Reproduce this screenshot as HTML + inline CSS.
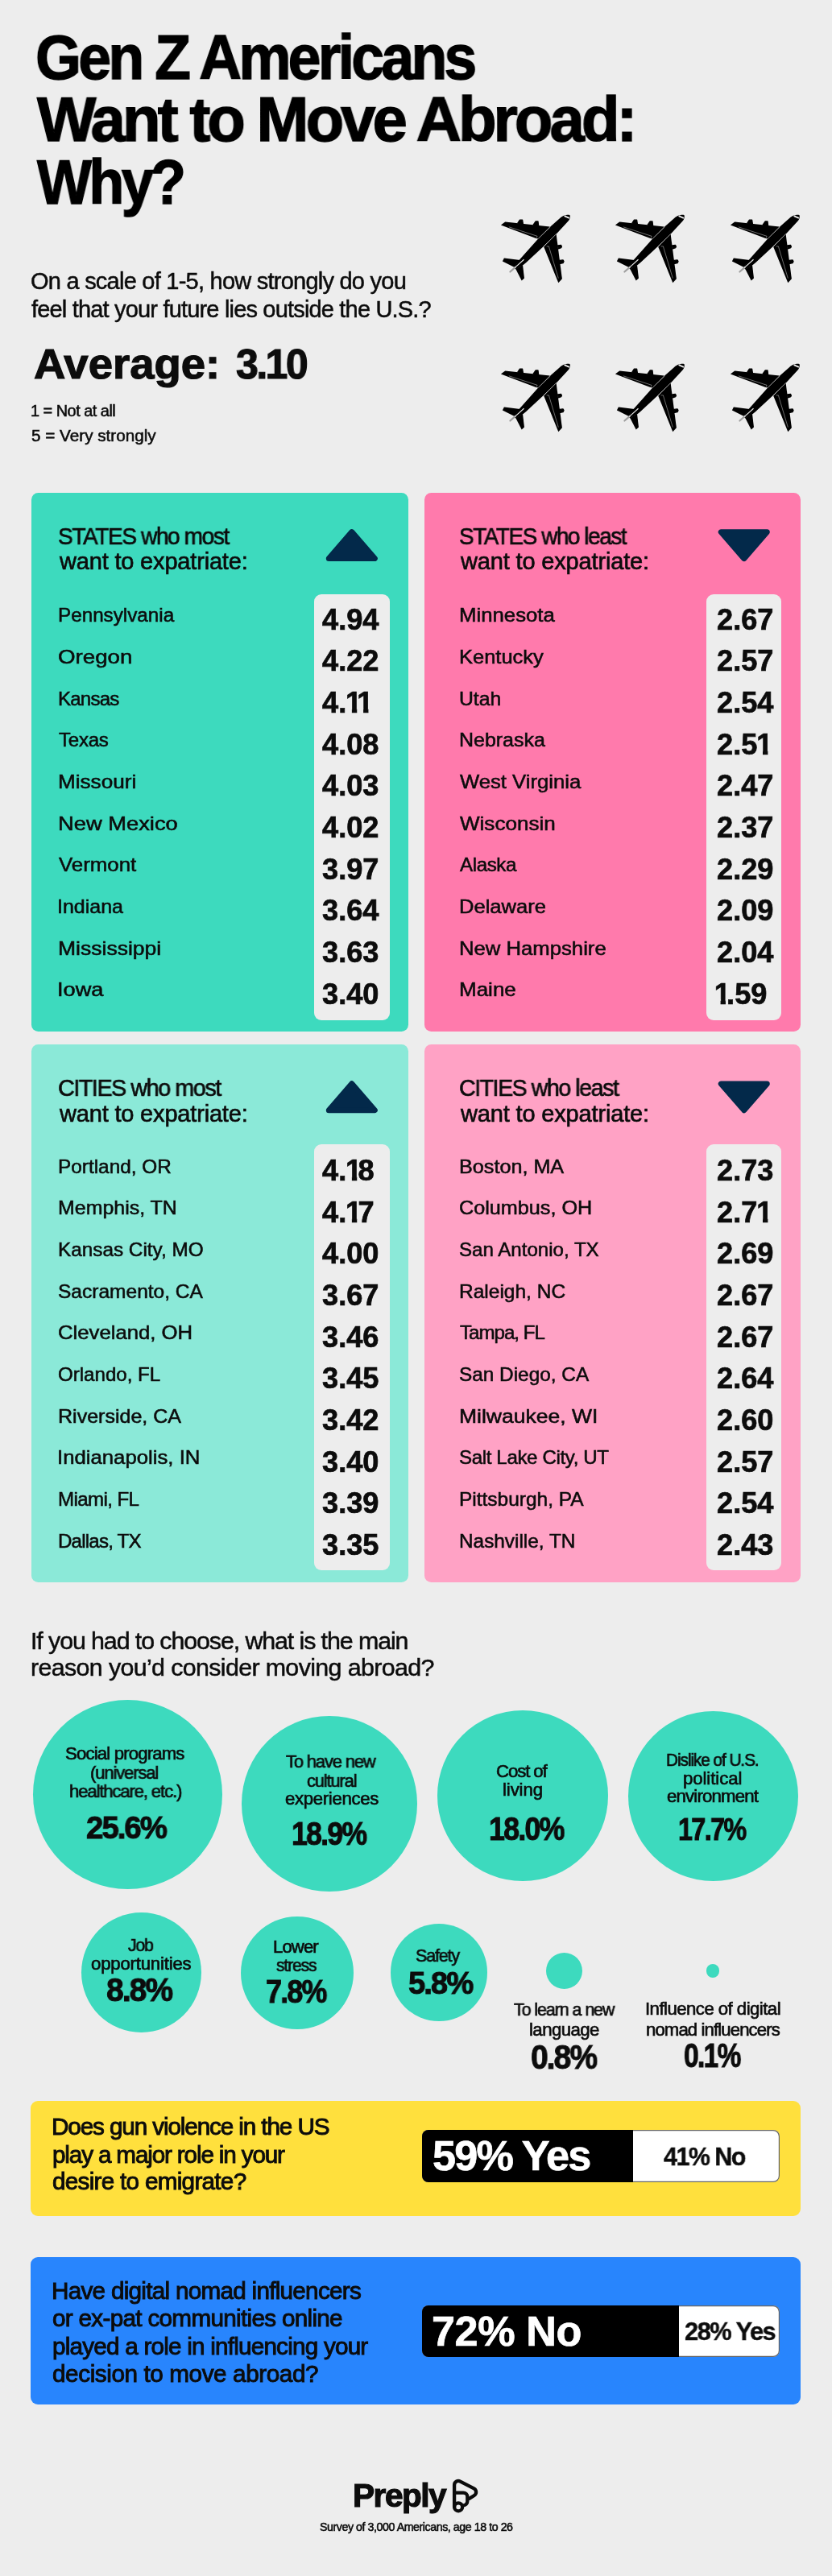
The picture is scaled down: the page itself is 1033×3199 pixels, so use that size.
<!DOCTYPE html>
<html lang="en"><head><meta charset="utf-8"><title>Gen Z Americans Want to Move Abroad: Why?</title>
<style>
html,body{margin:0;padding:0;background:#ededed}
body{width:1033px;height:3199px;background:#ededed;position:relative;overflow:hidden;font-family:"Liberation Sans",sans-serif;color:#0c0c0c}
.t{position:absolute;white-space:pre;line-height:1;will-change:transform;transform-origin:0 50%;-webkit-text-stroke:.55px currentColor}
.b{font-weight:700;-webkit-text-stroke:.7px currentColor}
.h{-webkit-text-stroke:1.4px currentColor;color:#000}
.m{-webkit-text-stroke:.95px currentColor}
.l{-webkit-text-stroke:.65px currentColor}
.p{-webkit-text-stroke:1.2px currentColor}
.q{-webkit-text-stroke:1px currentColor}
.n{-webkit-text-stroke:.45px currentColor}
.m3{-webkit-text-stroke:.65px currentColor}
.m2{-webkit-text-stroke:.5px currentColor}
.t i{font-style:normal;display:inline-block;margin:0 -.135em 0 -.03em;clip-path:polygon(0 0,100% 0,100% .66em,.39em .66em,.39em 1em,.215em 1em,.215em .66em,0 .66em)}
.t i.f{margin-left:-.06em}
.card{position:absolute;border-radius:8.5px}
.nbox{position:absolute;border-radius:9px;background:#ededed}
.circ{position:absolute;border-radius:50%;background:#3ddabe}
.band{position:absolute;border-radius:9px}
.bar{position:absolute;border-radius:8px;background:#fff;box-shadow:inset 0 0 0 1.2px rgba(0,0,0,.6);overflow:hidden}
.bk{position:absolute;left:0;top:0;bottom:0;background:#000}
h1{margin:0;font:inherit}
svg.ov{position:absolute;left:0;top:0;width:1033px;height:3199px;pointer-events:none}
</style></head><body>
<main>
<header id="intro">
<svg class="ov" viewBox="0 0 1033 3199"><g fill="#000">
<g transform="translate(610 255)"><path d="M72.7 26.6 L17.2 20.5 11.9 24.5 55.5 41 58.4 41.6Z"/>
<path d="M80.6 35.4 L87.9 91.2 83.3 96.2 65.2 51.4Z"/>
<path d="M32.8 22 L35.4 18.2 38.6 18.1 39.4 23Z M52.2 24.2 L55 20 58 20 58.6 25Z M82.6 50 L86.6 49.4 87.4 51.2 86.8 52.6 83.4 53.8Z M85 68.4 L89 67.9 90 69.6 89 71.6 85.6 72.4Z" stroke="#000" stroke-width="1.3" stroke-linejoin="round"/>
<path d="M15.9 65.4 L35.7 68.1 28.4 76.7 13.9 69.4Z"/>
<path d="M39 74 L41 90.6 37.7 93.6 30.4 79.3Z"/>
<path d="M97.6 12.2 C98.2 14.5 97.4 17.6 95.6 19.6 L80.6 35.7 64.8 50.9 43.6 70.7 39.7 74 30.5 79.6 28 77.2 35 67.4 58.2 41.6 72.7 27.1 84.6 16.5 C87 14 90.5 12.1 92.5 12.2 C94.5 11.6 96.3 11.6 97.6 12.2Z"/>
<path d="M73.4 26.9 L58.3 41.2 M80.9 35.4 L65.1 50.9" stroke="#ededed" stroke-width=".55" fill="none"/>
<path d="M21.8 26.8 L57.1 38.3 56.2 40.3 M68.7 50.9 L71.4 50.9 83.3 90.6" stroke="#ededed" stroke-width=".45" fill="none"/>
<path d="M23.4 82.5 L29.6 77.2" stroke="#a0a0a0" stroke-width="2.2" stroke-linecap="round" fill="none"/>
<path d="M29 77.6 L40.5 67.3" stroke="#e8e8e8" stroke-width="1.2" fill="none"/>
<path d="M91.2 13.4 L96.3 15.6" stroke="#ededed" stroke-width="1.7" stroke-linecap="round" fill="none"/></g>
<g transform="translate(752 255)"><path d="M72.7 26.6 L17.2 20.5 11.9 24.5 55.5 41 58.4 41.6Z"/>
<path d="M80.6 35.4 L87.9 91.2 83.3 96.2 65.2 51.4Z"/>
<path d="M32.8 22 L35.4 18.2 38.6 18.1 39.4 23Z M52.2 24.2 L55 20 58 20 58.6 25Z M82.6 50 L86.6 49.4 87.4 51.2 86.8 52.6 83.4 53.8Z M85 68.4 L89 67.9 90 69.6 89 71.6 85.6 72.4Z" stroke="#000" stroke-width="1.3" stroke-linejoin="round"/>
<path d="M15.9 65.4 L35.7 68.1 28.4 76.7 13.9 69.4Z"/>
<path d="M39 74 L41 90.6 37.7 93.6 30.4 79.3Z"/>
<path d="M97.6 12.2 C98.2 14.5 97.4 17.6 95.6 19.6 L80.6 35.7 64.8 50.9 43.6 70.7 39.7 74 30.5 79.6 28 77.2 35 67.4 58.2 41.6 72.7 27.1 84.6 16.5 C87 14 90.5 12.1 92.5 12.2 C94.5 11.6 96.3 11.6 97.6 12.2Z"/>
<path d="M73.4 26.9 L58.3 41.2 M80.9 35.4 L65.1 50.9" stroke="#ededed" stroke-width=".55" fill="none"/>
<path d="M21.8 26.8 L57.1 38.3 56.2 40.3 M68.7 50.9 L71.4 50.9 83.3 90.6" stroke="#ededed" stroke-width=".45" fill="none"/>
<path d="M23.4 82.5 L29.6 77.2" stroke="#a0a0a0" stroke-width="2.2" stroke-linecap="round" fill="none"/>
<path d="M29 77.6 L40.5 67.3" stroke="#e8e8e8" stroke-width="1.2" fill="none"/>
<path d="M91.2 13.4 L96.3 15.6" stroke="#ededed" stroke-width="1.7" stroke-linecap="round" fill="none"/></g>
<g transform="translate(895 255)"><path d="M72.7 26.6 L17.2 20.5 11.9 24.5 55.5 41 58.4 41.6Z"/>
<path d="M80.6 35.4 L87.9 91.2 83.3 96.2 65.2 51.4Z"/>
<path d="M32.8 22 L35.4 18.2 38.6 18.1 39.4 23Z M52.2 24.2 L55 20 58 20 58.6 25Z M82.6 50 L86.6 49.4 87.4 51.2 86.8 52.6 83.4 53.8Z M85 68.4 L89 67.9 90 69.6 89 71.6 85.6 72.4Z" stroke="#000" stroke-width="1.3" stroke-linejoin="round"/>
<path d="M15.9 65.4 L35.7 68.1 28.4 76.7 13.9 69.4Z"/>
<path d="M39 74 L41 90.6 37.7 93.6 30.4 79.3Z"/>
<path d="M97.6 12.2 C98.2 14.5 97.4 17.6 95.6 19.6 L80.6 35.7 64.8 50.9 43.6 70.7 39.7 74 30.5 79.6 28 77.2 35 67.4 58.2 41.6 72.7 27.1 84.6 16.5 C87 14 90.5 12.1 92.5 12.2 C94.5 11.6 96.3 11.6 97.6 12.2Z"/>
<path d="M73.4 26.9 L58.3 41.2 M80.9 35.4 L65.1 50.9" stroke="#ededed" stroke-width=".55" fill="none"/>
<path d="M21.8 26.8 L57.1 38.3 56.2 40.3 M68.7 50.9 L71.4 50.9 83.3 90.6" stroke="#ededed" stroke-width=".45" fill="none"/>
<path d="M23.4 82.5 L29.6 77.2" stroke="#a0a0a0" stroke-width="2.2" stroke-linecap="round" fill="none"/>
<path d="M29 77.6 L40.5 67.3" stroke="#e8e8e8" stroke-width="1.2" fill="none"/>
<path d="M91.2 13.4 L96.3 15.6" stroke="#ededed" stroke-width="1.7" stroke-linecap="round" fill="none"/></g>
<g transform="translate(610 440)"><path d="M72.7 26.6 L17.2 20.5 11.9 24.5 55.5 41 58.4 41.6Z"/>
<path d="M80.6 35.4 L87.9 91.2 83.3 96.2 65.2 51.4Z"/>
<path d="M32.8 22 L35.4 18.2 38.6 18.1 39.4 23Z M52.2 24.2 L55 20 58 20 58.6 25Z M82.6 50 L86.6 49.4 87.4 51.2 86.8 52.6 83.4 53.8Z M85 68.4 L89 67.9 90 69.6 89 71.6 85.6 72.4Z" stroke="#000" stroke-width="1.3" stroke-linejoin="round"/>
<path d="M15.9 65.4 L35.7 68.1 28.4 76.7 13.9 69.4Z"/>
<path d="M39 74 L41 90.6 37.7 93.6 30.4 79.3Z"/>
<path d="M97.6 12.2 C98.2 14.5 97.4 17.6 95.6 19.6 L80.6 35.7 64.8 50.9 43.6 70.7 39.7 74 30.5 79.6 28 77.2 35 67.4 58.2 41.6 72.7 27.1 84.6 16.5 C87 14 90.5 12.1 92.5 12.2 C94.5 11.6 96.3 11.6 97.6 12.2Z"/>
<path d="M73.4 26.9 L58.3 41.2 M80.9 35.4 L65.1 50.9" stroke="#ededed" stroke-width=".55" fill="none"/>
<path d="M21.8 26.8 L57.1 38.3 56.2 40.3 M68.7 50.9 L71.4 50.9 83.3 90.6" stroke="#ededed" stroke-width=".45" fill="none"/>
<path d="M23.4 82.5 L29.6 77.2" stroke="#a0a0a0" stroke-width="2.2" stroke-linecap="round" fill="none"/>
<path d="M29 77.6 L40.5 67.3" stroke="#e8e8e8" stroke-width="1.2" fill="none"/>
<path d="M91.2 13.4 L96.3 15.6" stroke="#ededed" stroke-width="1.7" stroke-linecap="round" fill="none"/></g>
<g transform="translate(752 440)"><path d="M72.7 26.6 L17.2 20.5 11.9 24.5 55.5 41 58.4 41.6Z"/>
<path d="M80.6 35.4 L87.9 91.2 83.3 96.2 65.2 51.4Z"/>
<path d="M32.8 22 L35.4 18.2 38.6 18.1 39.4 23Z M52.2 24.2 L55 20 58 20 58.6 25Z M82.6 50 L86.6 49.4 87.4 51.2 86.8 52.6 83.4 53.8Z M85 68.4 L89 67.9 90 69.6 89 71.6 85.6 72.4Z" stroke="#000" stroke-width="1.3" stroke-linejoin="round"/>
<path d="M15.9 65.4 L35.7 68.1 28.4 76.7 13.9 69.4Z"/>
<path d="M39 74 L41 90.6 37.7 93.6 30.4 79.3Z"/>
<path d="M97.6 12.2 C98.2 14.5 97.4 17.6 95.6 19.6 L80.6 35.7 64.8 50.9 43.6 70.7 39.7 74 30.5 79.6 28 77.2 35 67.4 58.2 41.6 72.7 27.1 84.6 16.5 C87 14 90.5 12.1 92.5 12.2 C94.5 11.6 96.3 11.6 97.6 12.2Z"/>
<path d="M73.4 26.9 L58.3 41.2 M80.9 35.4 L65.1 50.9" stroke="#ededed" stroke-width=".55" fill="none"/>
<path d="M21.8 26.8 L57.1 38.3 56.2 40.3 M68.7 50.9 L71.4 50.9 83.3 90.6" stroke="#ededed" stroke-width=".45" fill="none"/>
<path d="M23.4 82.5 L29.6 77.2" stroke="#a0a0a0" stroke-width="2.2" stroke-linecap="round" fill="none"/>
<path d="M29 77.6 L40.5 67.3" stroke="#e8e8e8" stroke-width="1.2" fill="none"/>
<path d="M91.2 13.4 L96.3 15.6" stroke="#ededed" stroke-width="1.7" stroke-linecap="round" fill="none"/></g>
<g transform="translate(895 440)"><path d="M72.7 26.6 L17.2 20.5 11.9 24.5 55.5 41 58.4 41.6Z"/>
<path d="M80.6 35.4 L87.9 91.2 83.3 96.2 65.2 51.4Z"/>
<path d="M32.8 22 L35.4 18.2 38.6 18.1 39.4 23Z M52.2 24.2 L55 20 58 20 58.6 25Z M82.6 50 L86.6 49.4 87.4 51.2 86.8 52.6 83.4 53.8Z M85 68.4 L89 67.9 90 69.6 89 71.6 85.6 72.4Z" stroke="#000" stroke-width="1.3" stroke-linejoin="round"/>
<path d="M15.9 65.4 L35.7 68.1 28.4 76.7 13.9 69.4Z"/>
<path d="M39 74 L41 90.6 37.7 93.6 30.4 79.3Z"/>
<path d="M97.6 12.2 C98.2 14.5 97.4 17.6 95.6 19.6 L80.6 35.7 64.8 50.9 43.6 70.7 39.7 74 30.5 79.6 28 77.2 35 67.4 58.2 41.6 72.7 27.1 84.6 16.5 C87 14 90.5 12.1 92.5 12.2 C94.5 11.6 96.3 11.6 97.6 12.2Z"/>
<path d="M73.4 26.9 L58.3 41.2 M80.9 35.4 L65.1 50.9" stroke="#ededed" stroke-width=".55" fill="none"/>
<path d="M21.8 26.8 L57.1 38.3 56.2 40.3 M68.7 50.9 L71.4 50.9 83.3 90.6" stroke="#ededed" stroke-width=".45" fill="none"/>
<path d="M23.4 82.5 L29.6 77.2" stroke="#a0a0a0" stroke-width="2.2" stroke-linecap="round" fill="none"/>
<path d="M29 77.6 L40.5 67.3" stroke="#e8e8e8" stroke-width="1.2" fill="none"/>
<path d="M91.2 13.4 L96.3 15.6" stroke="#ededed" stroke-width="1.7" stroke-linecap="round" fill="none"/></g>
</g></svg>
<h1><span class="t b h" style="left:43.7px;top:32.1px;font-size:78.3px;letter-spacing:-3.91px;transform:scaleX(0.935)">Gen Z Americans</span><span class="t b h" style="left:45.5px;top:109.0px;font-size:78.3px;letter-spacing:-3.91px;transform:scaleX(0.993)">Want to Move Abroad:</span><span class="t b h" style="left:45.5px;top:187.1px;font-size:78.3px;letter-spacing:-3.91px;transform:scaleX(0.919)">Why?</span></h1>
<span class="t m2" style="left:38.0px;top:335.2px;font-size:29.0px;letter-spacing:-0.76px">On a scale of 1-5, how strongly do you</span>
<span class="t m2" style="left:39.0px;top:369.5px;font-size:29.0px;letter-spacing:-0.82px">feel that your future lies outside the U.S.?</span>
<span class="t b p" style="left:41.6px;top:426.3px;font-size:52.2px;transform:scaleX(1.044)">Average:</span>
<span class="t b p" style="left:293.3px;top:426.3px;font-size:52.2px;letter-spacing:-2.61px;transform:scaleX(0.956)">3.10</span>
<span class="t" style="left:38.0px;top:500.8px;font-size:19.9px;letter-spacing:-0.50px">1 = Not at all</span>
<span class="t" style="left:39.0px;top:532.2px;font-size:19.9px;transform:scaleX(1.040)">5 = Very strongly</span>
</header>
<section id="rankings">
<div class="card" style="left:39px;top:612px;width:468px;height:669.3px;background:#3ddabe"></div>
<div class="nbox" style="left:390px;top:737.5px;width:93.5px;height:529px"></div>
<div class="card" style="left:526.7px;top:612px;width:467.8px;height:669.3px;background:#ff7aac"></div>
<div class="nbox" style="left:876.8px;top:737.5px;width:93.5px;height:529px"></div>
<div class="card" style="left:39px;top:1297.2px;width:468px;height:667.8px;background:#8be9d8"></div>
<div class="nbox" style="left:390px;top:1420.7px;width:93.5px;height:529px"></div>
<div class="card" style="left:526.7px;top:1297.2px;width:467.8px;height:667.8px;background:#ffa2c5"></div>
<div class="nbox" style="left:876.8px;top:1420.7px;width:93.5px;height:529px"></div>
<svg class="ov" viewBox="0 0 1033 3199"><g fill="#03294a" stroke="#03294a" stroke-width="7" stroke-linejoin="round"><polygon points="436.8,660.6 465.3,693.5 408.3,693.5"/><polygon points="895.3,660.7 952.3,660.7 923.8,693.6"/><polygon points="436.8,1345.8 465.3,1378.7 408.3,1378.7"/><polygon points="895.3,1345.9 952.3,1345.9 923.8,1378.8"/></g></svg>
<span class="t m3" style="left:72.3px;top:651.5px;font-size:29.0px;letter-spacing:-1.45px;transform:scaleX(0.968)">STATES who most</span>
<span class="t m3" style="left:74.3px;top:683.3px;font-size:29.0px;letter-spacing:-0.18px">want to expatriate:</span>
<span class="t" style="left:72.3px;top:752.3px;font-size:24.1px;transform:scaleX(1.006)">Pennsylvania</span>
<span class="t b" style="left:400.0px;top:751.7px;font-size:36.2px">4.94</span>
<span class="t" style="left:72.2px;top:804.0px;font-size:24.1px;transform:scaleX(1.149)">Oregon</span>
<span class="t b" style="left:400.0px;top:803.4px;font-size:36.2px">4.22</span>
<span class="t" style="left:72.3px;top:855.7px;font-size:24.1px;letter-spacing:-0.82px">Kansas</span>
<span class="t b" style="left:400.0px;top:855.1px;font-size:36.2px">4.<i>1</i><i>1</i></span>
<span class="t" style="left:73.3px;top:907.3px;font-size:24.1px;letter-spacing:-0.27px">Texas</span>
<span class="t b" style="left:400.0px;top:906.7px;font-size:36.2px">4.08</span>
<span class="t" style="left:72.2px;top:959.0px;font-size:24.1px;transform:scaleX(1.084)">Missouri</span>
<span class="t b" style="left:400.0px;top:958.4px;font-size:36.2px">4.03</span>
<span class="t" style="left:72.2px;top:1010.7px;font-size:24.1px;transform:scaleX(1.134)">New Mexico</span>
<span class="t b" style="left:400.0px;top:1010.1px;font-size:36.2px">4.02</span>
<span class="t" style="left:73.3px;top:1062.4px;font-size:24.1px;transform:scaleX(1.073)">Vermont</span>
<span class="t b" style="left:400.0px;top:1061.7px;font-size:36.2px">3.97</span>
<span class="t" style="left:71.2px;top:1114.0px;font-size:24.1px;transform:scaleX(1.036)">Indiana</span>
<span class="t b" style="left:400.0px;top:1113.4px;font-size:36.2px">3.64</span>
<span class="t" style="left:72.2px;top:1165.7px;font-size:24.1px;transform:scaleX(1.101)">Mississippi</span>
<span class="t b" style="left:400.0px;top:1165.1px;font-size:36.2px">3.63</span>
<span class="t" style="left:71.0px;top:1217.4px;font-size:24.1px;transform:scaleX(1.127)">Iowa</span>
<span class="t b" style="left:400.0px;top:1216.8px;font-size:36.2px">3.40</span>
<span class="t m3" style="left:570.0px;top:651.5px;font-size:29.0px;letter-spacing:-1.45px;transform:scaleX(0.960)">STATES who least</span>
<span class="t m3" style="left:572.0px;top:683.3px;font-size:29.0px;letter-spacing:-0.16px">want to expatriate:</span>
<span class="t" style="left:569.9px;top:752.3px;font-size:24.1px;transform:scaleX(1.069)">Minnesota</span>
<span class="t b" style="left:890.0px;top:751.7px;font-size:36.2px">2.67</span>
<span class="t" style="left:569.9px;top:804.0px;font-size:24.1px;transform:scaleX(1.057)">Kentucky</span>
<span class="t b" style="left:890.0px;top:803.4px;font-size:36.2px">2.57</span>
<span class="t" style="left:570.0px;top:855.7px;font-size:24.1px;transform:scaleX(1.026)">Utah</span>
<span class="t b" style="left:890.0px;top:855.1px;font-size:36.2px">2.54</span>
<span class="t" style="left:570.0px;top:907.3px;font-size:24.1px;transform:scaleX(1.036)">Nebraska</span>
<span class="t b" style="left:890.0px;top:906.7px;font-size:36.2px">2.5<i>1</i></span>
<span class="t" style="left:571.0px;top:959.0px;font-size:24.1px;transform:scaleX(1.065)">West Virginia</span>
<span class="t b" style="left:890.0px;top:958.4px;font-size:36.2px">2.47</span>
<span class="t" style="left:571.0px;top:1010.7px;font-size:24.1px;transform:scaleX(1.081)">Wisconsin</span>
<span class="t b" style="left:890.0px;top:1010.1px;font-size:36.2px">2.37</span>
<span class="t" style="left:571.0px;top:1062.4px;font-size:24.1px;letter-spacing:-0.38px">Alaska</span>
<span class="t b" style="left:890.0px;top:1061.7px;font-size:36.2px">2.29</span>
<span class="t" style="left:569.9px;top:1114.0px;font-size:24.1px;transform:scaleX(1.060)">Delaware</span>
<span class="t b" style="left:890.0px;top:1113.4px;font-size:36.2px">2.09</span>
<span class="t" style="left:569.9px;top:1165.7px;font-size:24.1px;transform:scaleX(1.066)">New Hampshire</span>
<span class="t b" style="left:890.0px;top:1165.1px;font-size:36.2px">2.04</span>
<span class="t" style="left:569.9px;top:1217.4px;font-size:24.1px;transform:scaleX(1.079)">Maine</span>
<span class="t b" style="left:889.0px;top:1216.8px;font-size:36.2px"><i class="f">1</i>.59</span>
<span class="t m3" style="left:72.3px;top:1336.7px;font-size:29.0px;letter-spacing:-1.45px;transform:scaleX(0.990)">CITIES who most</span>
<span class="t m3" style="left:74.3px;top:1368.5px;font-size:29.0px;letter-spacing:-0.18px">want to expatriate:</span>
<span class="t" style="left:72.3px;top:1436.6px;font-size:24.1px;transform:scaleX(1.011)">Portland, OR</span>
<span class="t b" style="left:400.0px;top:1436.0px;font-size:36.2px">4.<i>1</i>8</span>
<span class="t" style="left:72.3px;top:1488.3px;font-size:24.1px;transform:scaleX(1.035)">Memphis, TN</span>
<span class="t b" style="left:400.0px;top:1487.7px;font-size:36.2px">4.<i>1</i>7</span>
<span class="t" style="left:72.3px;top:1540.0px;font-size:24.1px;transform:scaleX(1.009)">Kansas City, MO</span>
<span class="t b" style="left:400.0px;top:1539.4px;font-size:36.2px">4.00</span>
<span class="t" style="left:72.3px;top:1591.6px;font-size:24.1px;transform:scaleX(1.018)">Sacramento, CA</span>
<span class="t b" style="left:400.0px;top:1591.0px;font-size:36.2px">3.67</span>
<span class="t" style="left:72.2px;top:1643.3px;font-size:24.1px;transform:scaleX(1.067)">Cleveland, OH</span>
<span class="t b" style="left:400.0px;top:1642.7px;font-size:36.2px">3.46</span>
<span class="t" style="left:72.3px;top:1695.0px;font-size:24.1px">Orlando, FL</span>
<span class="t b" style="left:400.0px;top:1694.4px;font-size:36.2px">3.45</span>
<span class="t" style="left:72.3px;top:1746.7px;font-size:24.1px;transform:scaleX(1.039)">Riverside, CA</span>
<span class="t b" style="left:400.0px;top:1746.0px;font-size:36.2px">3.42</span>
<span class="t" style="left:71.2px;top:1798.3px;font-size:24.1px;transform:scaleX(1.068)">Indianapolis, IN</span>
<span class="t b" style="left:400.0px;top:1797.7px;font-size:36.2px">3.40</span>
<span class="t" style="left:72.3px;top:1850.0px;font-size:24.1px;letter-spacing:-0.60px">Miami, FL</span>
<span class="t b" style="left:400.0px;top:1849.4px;font-size:36.2px">3.39</span>
<span class="t" style="left:72.3px;top:1901.7px;font-size:24.1px;letter-spacing:-0.79px">Dallas, TX</span>
<span class="t b" style="left:400.0px;top:1901.1px;font-size:36.2px">3.35</span>
<span class="t m3" style="left:570.0px;top:1336.7px;font-size:29.0px;letter-spacing:-1.45px;transform:scaleX(0.983)">CITIES who least</span>
<span class="t m3" style="left:572.0px;top:1368.5px;font-size:29.0px;letter-spacing:-0.16px">want to expatriate:</span>
<span class="t" style="left:570.0px;top:1436.6px;font-size:24.1px;transform:scaleX(1.045)">Boston, MA</span>
<span class="t b" style="left:890.0px;top:1436.0px;font-size:36.2px">2.73</span>
<span class="t" style="left:570.0px;top:1488.3px;font-size:24.1px;transform:scaleX(1.046)">Columbus, OH</span>
<span class="t b" style="left:890.0px;top:1487.7px;font-size:36.2px">2.7<i>1</i></span>
<span class="t" style="left:570.0px;top:1540.0px;font-size:24.1px">San Antonio, TX</span>
<span class="t b" style="left:890.0px;top:1539.4px;font-size:36.2px">2.69</span>
<span class="t" style="left:570.0px;top:1591.6px;font-size:24.1px;transform:scaleX(1.017)">Raleigh, NC</span>
<span class="t b" style="left:890.0px;top:1591.0px;font-size:36.2px">2.67</span>
<span class="t" style="left:571.0px;top:1643.3px;font-size:24.1px;letter-spacing:-1.00px">Tampa, FL</span>
<span class="t b" style="left:890.0px;top:1642.7px;font-size:36.2px">2.67</span>
<span class="t" style="left:570.0px;top:1695.0px;font-size:24.1px;transform:scaleX(1.011)">San Diego, CA</span>
<span class="t b" style="left:890.0px;top:1694.4px;font-size:36.2px">2.64</span>
<span class="t" style="left:569.9px;top:1746.7px;font-size:24.1px;transform:scaleX(1.100)">Milwaukee, WI</span>
<span class="t b" style="left:890.0px;top:1746.0px;font-size:36.2px">2.60</span>
<span class="t" style="left:570.0px;top:1798.3px;font-size:24.1px;letter-spacing:-0.37px">Salt Lake City, UT</span>
<span class="t b" style="left:890.0px;top:1797.7px;font-size:36.2px">2.57</span>
<span class="t" style="left:570.0px;top:1850.0px;font-size:24.1px;transform:scaleX(1.016)">Pittsburgh, PA</span>
<span class="t b" style="left:890.0px;top:1849.4px;font-size:36.2px">2.54</span>
<span class="t" style="left:570.0px;top:1901.7px;font-size:24.1px;transform:scaleX(1.011)">Nashville, TN</span>
<span class="t b" style="left:890.0px;top:1901.1px;font-size:36.2px">2.43</span>
</section>
<section id="reasons">
<div class="circ" style="left:40.9px;top:2110.5px;width:235.0px;height:235.0px"></div>
<div class="circ" style="left:300.3px;top:2131.3px;width:217.4px;height:217.4px"></div>
<div class="circ" style="left:543.0px;top:2124.0px;width:212.0px;height:212.0px"></div>
<div class="circ" style="left:780.0px;top:2125.0px;width:211.0px;height:211.0px"></div>
<div class="circ" style="left:100.5px;top:2374.5px;width:149.0px;height:149.0px"></div>
<div class="circ" style="left:299.0px;top:2380.0px;width:140.0px;height:140.0px"></div>
<div class="circ" style="left:484.9px;top:2389.3px;width:120.6px;height:120.6px"></div>
<div class="circ" style="left:677.9px;top:2424.6px;width:45.6px;height:45.6px"></div>
<div class="circ" style="left:876.9px;top:2439.0px;width:16.6px;height:16.6px"></div>
<span class="t m2" style="left:38.0px;top:2022.2px;font-size:30.4px;letter-spacing:-1.10px">If you had to choose, what is the main</span>
<span class="t m2" style="left:38.0px;top:2055.2px;font-size:30.4px;letter-spacing:-0.64px">reason you’d consider moving abroad?</span>
<span class="t l" style="left:80.9px;top:2166.5px;font-size:22.2px;letter-spacing:-0.85px">Social programs</span>
<span class="t l" style="left:112.3px;top:2190.7px;font-size:22.2px;letter-spacing:-1.11px;transform:scaleX(0.990)">(universal</span>
<span class="t l" style="left:85.9px;top:2213.7px;font-size:22.2px;letter-spacing:-1.11px;transform:scaleX(0.993)">healthcare, etc.)</span>
<span class="t b q" style="left:107.3px;top:2250.5px;font-size:38.8px;letter-spacing:-1.94px;transform:scaleX(0.987)">25.6%</span>
<span class="t l" style="left:355.0px;top:2177.2px;font-size:22.2px;letter-spacing:-1.11px;transform:scaleX(0.984)">To have new</span>
<span class="t l" style="left:380.6px;top:2200.8px;font-size:22.2px;letter-spacing:-1.11px;transform:scaleX(0.982)">cultural</span>
<span class="t l" style="left:353.5px;top:2223.3px;font-size:22.2px;letter-spacing:-0.34px">experiences</span>
<span class="t b q" style="left:361.7px;top:2257.0px;font-size:40.6px;letter-spacing:-2.03px;transform:scaleX(0.881)">18.9%</span>
<span class="t l" style="left:616.3px;top:2188.7px;font-size:22.2px;letter-spacing:-1.11px">Cost of</span>
<span class="t l" style="left:624.2px;top:2211.7px;font-size:22.2px;letter-spacing:-0.11px">living</span>
<span class="t b q" style="left:607.1px;top:2250.9px;font-size:41.4px;letter-spacing:-2.07px;transform:scaleX(0.866)">18.0%</span>
<span class="t l" style="left:827.2px;top:2174.9px;font-size:22.2px;letter-spacing:-1.11px;transform:scaleX(0.935)">Dislike of U.S.</span>
<span class="t l" style="left:847.7px;top:2197.6px;font-size:22.2px;letter-spacing:-0.08px">political</span>
<span class="t l" style="left:828.1px;top:2220.2px;font-size:22.2px;letter-spacing:-0.82px">environment</span>
<span class="t b q" style="left:841.7px;top:2252.4px;font-size:39.7px;letter-spacing:-1.99px;transform:scaleX(0.814)">17.7%</span>
<span class="t l" style="left:159.2px;top:2405.0px;font-size:22.2px;letter-spacing:-1.11px;transform:scaleX(0.946)">Job</span>
<span class="t l" style="left:112.7px;top:2428.0px;font-size:22.2px;letter-spacing:-0.20px">opportunities</span>
<span class="t b q" style="left:132.3px;top:2450.6px;font-size:40.9px;letter-spacing:-2.04px;transform:scaleX(0.954)">8.8%</span>
<span class="t l" style="left:339.2px;top:2406.7px;font-size:22.2px;letter-spacing:-0.94px">Lower</span>
<span class="t l" style="left:343.0px;top:2429.8px;font-size:22.2px;letter-spacing:-1.11px;transform:scaleX(0.943)">stress</span>
<span class="t b q" style="left:329.8px;top:2453.3px;font-size:40.0px;letter-spacing:-2.00px;transform:scaleX(0.898)">7.8%</span>
<span class="t l" style="left:516.2px;top:2418.3px;font-size:22.2px;letter-spacing:-1.11px;transform:scaleX(0.960)">Safety</span>
<span class="t b q" style="left:506.9px;top:2443.3px;font-size:39.7px;letter-spacing:-1.99px;transform:scaleX(0.961)">5.8%</span>
<span class="t l" style="left:637.7px;top:2484.6px;font-size:22.2px;letter-spacing:-1.11px;transform:scaleX(0.966)">To learn a new</span>
<span class="t l" style="left:656.9px;top:2509.6px;font-size:22.2px;letter-spacing:-0.57px">language</span>
<span class="t b q" style="left:659.1px;top:2533.8px;font-size:41.7px;letter-spacing:-2.09px;transform:scaleX(0.936)">0.8%</span>
<span class="t l" style="left:800.5px;top:2484.3px;font-size:22.2px;letter-spacing:-0.54px">Influence of digital</span>
<span class="t l" style="left:801.5px;top:2509.7px;font-size:22.2px;letter-spacing:-0.91px">nomad influencers</span>
<span class="t b q" style="left:849.3px;top:2531.8px;font-size:42.0px;letter-spacing:-2.10px;transform:scaleX(0.799)">0.1%</span>
</section>
<section id="polls">
<div class="band" style="left:38.2px;top:2608.6px;width:956.1px;height:143.4px;background:#ffe03d"></div>
<div class="band" style="left:38.2px;top:2803.4px;width:956.1px;height:182.6px;background:#2885fd"></div>
<div class="bar" style="left:524.2px;top:2645px;width:443.8px;height:65px"><div class="bk" style="width:261.8px"></div></div>
<div class="bar" style="left:524.2px;top:2862.5px;width:443.8px;height:64.5px"><div class="bk" style="width:318.8px"></div></div>
<span class="t m" style="left:63.8px;top:2626.4px;font-size:29.7px;letter-spacing:-1.12px">Does gun violence in the US</span>
<span class="t m" style="left:64.8px;top:2660.9px;font-size:29.7px;letter-spacing:-1.16px">play a major role in your</span>
<span class="t m" style="left:64.8px;top:2694.4px;font-size:29.7px;letter-spacing:-0.72px">desire to emigrate?</span>
<span class="t m" style="left:63.8px;top:2829.9px;font-size:29.7px;letter-spacing:-0.73px">Have digital nomad influencers</span>
<span class="t m" style="left:64.8px;top:2863.9px;font-size:29.7px;letter-spacing:-0.70px">or ex-pat communities online</span>
<span class="t m" style="left:64.8px;top:2898.9px;font-size:29.7px;letter-spacing:-0.79px">played a role in influencing your</span>
<span class="t m" style="left:64.8px;top:2932.9px;font-size:29.7px;letter-spacing:-0.41px">decision to move abroad?</span>
<span class="t b" style="left:537.0px;top:2650.8px;font-size:52.2px;letter-spacing:-1.80px;color:#fff">59% Yes</span>
<span class="t b n" style="left:823.6px;top:2663.0px;font-size:31.9px;letter-spacing:-1.59px;transform:scaleX(0.955)">41% No</span>
<span class="t b" style="left:536.0px;top:2868.8px;font-size:52.2px;letter-spacing:-0.41px;color:#fff">72% No</span>
<span class="t b n" style="left:849.5px;top:2880.0px;font-size:31.9px;letter-spacing:-1.59px;transform:scaleX(0.967)">28% Yes</span>
</section>
<footer id="source">
<svg class="ov" viewBox="0 0 1033 3199"><g transform="translate(550 3070)" fill="none" stroke="#0c0c0c" stroke-width="4.3" stroke-linecap="round" stroke-linejoin="round">
<path d="M14.1 43.3 V16 a5 5 0 0 1 7.4 -4.4 L38.5 20.4 a5 5 0 0 1 .3 8.6 L32.6 32.8"/>
<path d="M14.1 25.6 H25.3 a5 5 0 0 1 5 5 V36.3 a5 5 0 0 1 -5 5"/>
<circle cx="19.1" cy="43.3" r="5"/></g></svg>
<span class="t b p" style="left:438.0px;top:3078.6px;font-size:40.6px;letter-spacing:-1.49px">Preply</span>
<span class="t" style="left:396.8px;top:3130.5px;font-size:14.2px;letter-spacing:-0.43px">Survey of 3,000 Americans, age 18 to 26</span>
</footer>
</main>
</body></html>
